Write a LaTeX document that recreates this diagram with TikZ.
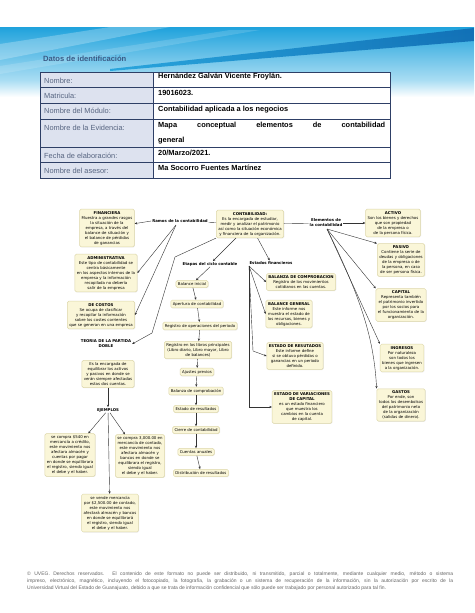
\documentclass[tikz,border=0pt]{standalone}
\usepackage{fontspec}
\setmainfont{Liberation Sans}
\newfontfamily\mapfont{DejaVu Sans}
\usepackage{tikz}
\usetikzlibrary{arrows.meta, shadows}
\definecolor{marco}{HTML}{2E3F66}
\definecolor{celda}{HTML}{DDE2EF}
\definecolor{grisazul}{HTML}{566480}
\definecolor{datos}{HTML}{3A5A85}
\definecolor{cielo}{HTML}{1FA2DC}
\definecolor{cielohondo}{HTML}{0F6BB2}
\definecolor{cieloclaro}{HTML}{A9DDF3}
\definecolor{papel}{HTML}{FAF6D8}
\definecolor{borde}{HTML}{DDD7AA}
\definecolor{trazo}{HTML}{333333}
\tikzset{
    >={Stealth[length=2.6pt, width=2.2pt]},
    caja/.style={draw=borde, fill=papel, rounded corners=1.5pt, line width=0.5pt,
        align=center, inner sep=2pt, font=\mapfont\fontsize{3.9}{5}\selectfont,
        drop shadow={shadow xshift=0.6pt, shadow yshift=-0.6pt, fill=black!15}},
    etiqueta/.style={align=center, inner sep=0.8pt,
        font=\mapfont\bfseries\fontsize{3.9}{5}\selectfont},
    flecha/.style={->, draw=trazo, line width=0.4pt},
    enlace/.style={draw=trazo, line width=0.4pt},
    rotulo/.style={anchor=west, inner sep=0pt, text=grisazul, font=\fontsize{7.4}{9}\selectfont},
    valor/.style={anchor=west, inner sep=0pt, font=\bfseries\fontsize{7.4}{9}\selectfont}
}

\begin{document}
\begin{tikzpicture}[x=1pt, y=-1pt]

    \useasboundingbox (0,0) rectangle (474,613);
    \fill[white] (0,0) rectangle (474,613);

    % banner
    \shade[top color=cielo, bottom color=cieloclaro] (0,27) rectangle (474,80);
    \fill[white, opacity=0.25] (0,44) -- (110,27) -- (170,27) -- (0,60) -- cycle;
    \fill[white, opacity=0.15] (0,66) -- (230,30) -- (260,30) -- (0,74) -- cycle;
    \shade[left color=cielo, right color=cielohondo, opacity=0.9]
        (110,69) -- (474,28) -- (474,41) -- (110,71) -- cycle;
    \shade[top color=cieloclaro, bottom color=white] (0,80) rectangle (474,97);
    \node[anchor=west, inner sep=0pt, text=datos, font=\bfseries\fontsize{7.6}{9}\selectfont]
        (datos) at (43,59) {Datos de identificación};

    % table
    \fill[white] (153,72) rectangle (390,178);
    \fill[celda] (40,72) rectangle (153,178);
    \draw[marco, line width=0.9pt] (40,72) rectangle (390,178);
    \draw[marco, line width=0.9pt] (153,72) -- (153,178);
    \draw[marco, line width=0.9pt] (40,87) -- (390,87) (40,103) -- (390,103)
        (40,119) -- (390,119) (40,147) -- (390,147) (40,162) -- (390,162);

    \node[rotulo] (r1) at (44,81) {Nombre:};
    \node[rotulo] (r2) at (44,96) {Matricula:};
    \node[rotulo] (r3) at (44,111) {Nombre del Módulo:};
    \node[rotulo] (r4) at (44,128) {Nombre de la Evidencia:};
    \node[rotulo] (r5) at (44,156) {Fecha de elaboración:};
    \node[rotulo] (r6) at (44,171) {Nombre del asesor:};

    \node[valor] (v1) at (158,77) {Hernández Galván Vicente Froylán.};
    \node[valor] (v2) at (158,93) {19016023.};
    \node[valor] (v3) at (158,110) {Contabilidad aplicada a los negocios};
    \node[valor] (v4) at (158,126) {\makebox[227pt][s]{Mapa conceptual elementos de contabilidad}};
    \node[valor] (v4b) at (158,141) {general};
    \node[valor] (v5) at (158,153) {20/Marzo/2021.};
    \node[valor] (v6) at (158,168) {Ma Socorro Fuentes Martínez};

    % concept map
    \node[caja] (contab) at (250,224) {\textbf{CONTABILIDAD:}\\Es la encargada de estudiar,\\medir y analizar el patrimonio\\así como la situación económica\\y financiera de la organización.};

    \node[etiqueta] (ramos) at (180,221) {Ramos de la contabilidad};
    \node[caja] (financiera) at (107,228) {\textbf{FINANCIERA}\\Muestra a grandes rasgos\\la situación de la\\empresa, a través del\\balance de situación y\\el balance de pérdidas\\de ganancias};
    \node[caja] (admin) at (106,273) {\textbf{ADMINISTRATIVA}\\Este tipo de contabilidad se\\centra básicamente\\en los aspectos internos de la\\empresa y la información\\recopilada no debería\\salir de la empresa};
    \node[caja] (costos) at (101,315) {\textbf{DE COSTOS}\\Se ocupa de clasificar\\y recopilar la información\\sobre los costes corrientes\\que se generan en una empresa};
    \node[etiqueta] (teoria) at (106,344) {TEORIA DE LA PARTIDA\\DOBLE};
    \node[caja] (doble) at (108,374) {Es la encargada de\\equilibrar los activos\\y pasivos en donde se\\verán siempre afectadas\\estas dos cuentas.};
    \node[etiqueta] (ejemplos) at (108,410) {EJEMPLOS};
    \node[caja] (ej1) at (70,455) {se compra \$540 en\\mercancía a crédito,\\este movimiento nos\\afectara almacén y\\cuentas por pagar\\en donde se equilibrara\\el registro, siendo igual\\el debe y el haber.};
    \node[caja] (ej2) at (140,456) {se compra 3,000.00 en\\mercancía de contado,\\este movimiento nos\\afectara almacén y\\bancos en donde se\\equilibrara el registro,\\siendo igual\\el debe y el haber.};
    \node[caja] (ej3) at (110,513) {se vende mercancía\\por \$2,500.00 de contado,\\este movimiento nos\\afectará almacén y bancos\\en donde se equilibrará\\el registro, siendo igual\\el debe y el haber.};

    \node[etiqueta] (etapas) at (210,264) {Etapas del ciclo contable};
    \node[caja] (e1) at (192,284) {Balance inicial};
    \node[caja] (e2) at (197,304) {Apertura de contabilidad};
    \node[caja] (e3) at (200,326) {Registro de operaciones del periodo};
    \node[caja] (e4) at (198,350) {Registro en los libros principales\\(Libro diario, Libro mayor, Libro\\de balances)};
    \node[caja] (e5) at (197,372) {Ajustes previos};
    \node[caja] (e6) at (196,391) {Balanza de comprobación};
    \node[caja] (e7) at (196,409) {Estado de resultados};
    \node[caja] (e8) at (196,430) {Cierre de contabilidad};
    \node[caja] (e9) at (196,452) {Cuentas anuales};
    \node[caja] (e10) at (201,473) {Distribución de resultados};

    \node[etiqueta] (estados) at (271,263) {Estados financieros};
    \node[caja] (balanza) at (301,282) {\textbf{BALANZA DE COMPROBACION}\\Registro de los movimientos\\cotidianos en las cuentas.};
    \node[caja] (balance) at (289,314) {\textbf{BALANCE GENERAL}\\Este informe nos\\muestra el estado de\\los recursos, bienes y\\obligaciones.};
    \node[caja] (resultados) at (295,356) {\textbf{ESTADO DE RESUTADOS}\\Este informe define\\si se obtuvo pérdidas o\\ganancias en un periodo\\definido.};
    \node[caja] (variaciones) at (302,407) {\textbf{ESTADO DE VARIACIONES}\\\textbf{DE CAPITAL}\\es un estado financiero\\que muestra los\\cambios en la cuenta\\de capital.};

    \node[etiqueta] (elementos) at (326,223) {Elementos de\\la contabilidad};
    \node[caja] (activo) at (393,223) {\textbf{ACTIVO}\\Son los bienes y derechos\\que son propiedad\\de la empresa o\\de la persona física.};
    \node[caja] (pasivo) at (401,260) {\textbf{PASIVO}\\Contiene la serie de\\deudas y obligaciones\\de la empresa o de\\la persona, en caso\\de ser persona física.};
    \node[caja] (capital) at (401,305) {\textbf{CAPITAL}\\Representa también\\el patrimonio invertido\\por los socios para\\el funcionamiento de la\\organización.};
    \node[caja] (ingresos) at (402,358) {\textbf{INGRESOS}\\Por naturaleza\\son todos los\\bienes que ingresen\\a la organización.};
    \node[caja] (gastos) at (401,405) {\textbf{GASTOS}\\Por ende, son\\todos los desembolsos\\del patrimonio neto\\de la organización\\(salidas de dinero).};

    \coordinate (rbase) at (176,225);
    \coordinate (cbend) at (175,257);
    \coordinate (tbend) at (152,333);
    \coordinate (ebase) at (249,266);
    \coordinate (ebend) at (253,351);
    \coordinate (lbase) at (327,229);

    % connectors
    \draw[enlace] (contab) -- (ramos);
    \draw[flecha] (ramos.west) -- (financiera);
    \draw[flecha] (rbase) -- (admin.east);
    \draw[flecha] (rbase) -- (costos.east);
    \draw[flecha] (contab.south west) -- (cbend) -- (tbend) -- (teoria.east);
    \draw[flecha] (doble) -- (ejemplos);
    \draw[flecha] (ejemplos) -- (ej1);
    \draw[flecha] (ejemplos) -- (ej2);
    \draw[flecha] (ejemplos) -- (ej3);

    \draw[flecha] (contab) -- (etapas);
    \draw[flecha] (etapas.south) -- (e1);
    \draw[flecha] (e1) -- (e2);
    \draw[flecha] (e2) -- (e3);
    \draw[flecha] (e3) -- (e4);
    \draw[flecha] (e4) -- (e5);
    \draw[flecha] (e5) -- (e6);
    \draw[flecha] (e6) -- (e7);
    \draw[flecha] (e7) -- (e8);
    \draw[flecha] (e8) -- (e9);
    \draw[flecha] (e9) -- (e10);

    \draw[flecha] (contab) -- (estados);
    \draw[flecha] (ebase) -- (balanza.west);
    \draw[flecha] (ebase) -- (balance.west);
    \draw[flecha] (ebase) -- (ebend) -- (resultados.west);
    \draw[flecha] (ebase) -- (ebase |- variaciones.west) -- (variaciones.west);

    \draw[enlace] (contab) -- (elementos);
    \draw[flecha] (elementos) -- (activo);
    \draw[flecha] (lbase) -- (pasivo.north west);
    \draw[flecha] (lbase) -- (capital.north west);
    \draw[flecha] (lbase) -- (ingresos.north west);
    \draw[flecha] (lbase) .. controls (362,300) and (374,340) .. (gastos.north west);

    % footer
    \node[anchor=north west, inner sep=0pt, align=left, text=black!60,
        font=\fontsize{5}{7}\selectfont] (pie) at (27,572)
        {\makebox[426pt][s]{© UVEG. Derechos reservados. El contenido de este formato no puede ser distribuido, ni transmitido, parcial o totalmente, mediante cualquier medio, método o sistema}\\
         \makebox[426pt][s]{impreso, electrónico, magnético, incluyendo el fotocopiado, la fotografía, la grabación o un sistema de recuperación de la información, sin la autorización por escrito de la}\\
         Universidad Virtual del Estado de Guanajuato, debido a que se trata de información confidencial que sólo puede ser trabajado por personal autorizado para tal fin.};

\end{tikzpicture}
\end{document}
